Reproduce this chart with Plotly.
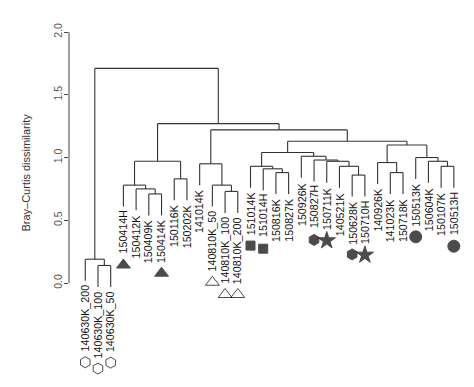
import plotly.graph_objects as go

# ---- data -------------------------------------------------------------
labels = ["140630K_200", "140630K_100", "140630K_50", "150414H", "150412K",
          "150409K", "150414K", "150116K", "150202K", "141014K",
          "140810K_50", "140810K_100", "140810K_200", "151014K", "151014H",
          "150816K", "150827K", "150926K", "150827H", "150711K",
          "140521K", "150628K", "150710H", "140926K", "141023K",
          "150718K", "150513K", "150604K", "150107K", "150513H"]

# hclust-style merges: negative = leaf (1-based), positive = earlier merge step
merge_a = [-2, -1, -6, -5, -4, -8, 5, -12, -11, -10, -16, -15, -14, -22, -21,
           -20, -19, -18, 13, -25, -24, -29, -28, -27, 21, 19, 10, 7, 2]
merge_b = [-3, 1, -7, 3, 4, -9, 6, -13, 8, 9, -17, 11, 12, -23, 14,
           15, 16, 17, 18, -26, 20, -30, 22, 23, 24, 25, 26, 27, 28]
heights = [0.14, 0.19, 0.71, 0.75, 0.78, 0.83, 0.97, 0.73, 0.78, 0.95,
           0.88, 0.91, 0.93, 0.86, 0.93, 0.97, 0.98, 1.01, 1.04, 0.88,
           0.96, 0.93, 0.97, 1.00, 1.10, 1.13, 1.22, 1.27, 1.71]

sample_symbol = {
    "140630K_200": "hexagon-open", "140630K_100": "hexagon-open", "140630K_50": "hexagon-open",
    "150414H": "triangle-up", "150414K": "triangle-up",
    "140810K_50": "triangle-up-open", "140810K_100": "triangle-up-open", "140810K_200": "triangle-up-open",
    "151014K": "square", "151014H": "square",
    "150827H": "hexagon", "150711K": "star", "150628K": "hexagon", "150710H": "star",
    "150513K": "circle", "150513H": "circle",
}

y_ticks = [0.0, 0.5, 1.0, 1.5, 2.0]
y_title = "Bray–Curtis dissimilarity"

# ---- layout geometry ----------------------------------------------------
W, H = 474, 387
ML, MR, MT, MB = 61, 4, 24, 2
Y0, Y1 = -0.876, 2.0
X0, X1 = -0.28, 31.9
px_per_unit = (H - MT - MB) / (Y1 - Y0)
LABEL_SIZE = 10.7
FONT = "Liberation Sans, Arial, sans-serif"

hang = 0.1 * max(heights)

# ---- dendrogram segments --------------------------------------------------
node_x = {}
node_h = {}
seg_x, seg_y = [], []
leaf_bottom = {}

for i, (a, b, h) in enumerate(zip(merge_a, merge_b, heights), start=1):
    xs = []
    for c in (a, b):
        if c < 0:
            cx = -c
            ch = h - hang
            leaf_bottom[-c] = ch
        else:
            cx = node_x[c]
            ch = node_h[c]
        xs.append(cx)
        seg_x += [cx, cx, None]
        seg_y += [h, ch, None]
    seg_x += [xs[0], xs[1], None]
    seg_y += [h, h, None]
    node_x[i] = (xs[0] + xs[1]) / 2
    node_h[i] = h

fig = go.Figure()
fig.add_trace(go.Scatter(x=seg_x, y=seg_y, mode="lines",
                         line=dict(color="#333333", width=1.1),
                         hoverinfo="skip", showlegend=False))

# ---- leaf labels & sample markers ----------------------------------------
char_w = {"K": 0.667, "H": 0.722, "_": 0.556}
def text_px(s):
    return sum(char_w.get(ch, 0.556) for ch in s) * LABEL_SIZE

annotations = []
mk_x, mk_y, mk_sym = [], [], []
for idx, lab in enumerate(labels, start=1):
    yb = leaf_bottom[idx]
    annotations.append(dict(x=idx, y=yb, xref="x", yref="y", text=lab,
                            textangle=-90, showarrow=False, xanchor="center",
                            yanchor="top", yshift=-2,
                            font=dict(family=FONT, size=LABEL_SIZE, color="#111")))
    if lab in sample_symbol:
        off = (4 + text_px(lab) + 11) / px_per_unit
        mk_x.append(idx)
        mk_y.append(yb - off)
        mk_sym.append(sample_symbol[lab])

sizes = {"hexagon-open": 11, "hexagon": 11, "triangle-up": 12, "triangle-up-open": 12,
         "square": 9, "star": 13, "circle": 12}
fig.add_trace(go.Scatter(x=mk_x, y=mk_y, mode="markers",
                         marker=dict(symbol=mk_sym, size=[sizes[s] for s in mk_sym],
                                     color="black", line=dict(color="black", width=1)),
                         cliponaxis=False, hoverinfo="skip", showlegend=False))

annotations.append(dict(x=(18 - ML) / (W - ML - MR), y=0.88, xref="paper", yref="y",
                        text=y_title, textangle=-90, showarrow=False,
                        xanchor="center", yanchor="middle",
                        font=dict(family=FONT, size=11, color="#333")))

fig.add_shape(type="line", xref="paper", yref="y", x0=0, x1=0,
              y0=y_ticks[0], y1=y_ticks[-1], line=dict(color="#444", width=1))

fig.update_layout(
    width=W, height=H, autosize=False,
    margin=dict(l=ML, r=MR, t=MT, b=MB),
    paper_bgcolor="white", plot_bgcolor="white",
    annotations=annotations,
    xaxis=dict(range=[X0, X1], visible=False, fixedrange=True),
    yaxis=dict(range=[Y0, Y1], tickvals=y_ticks,
               ticktext=[f"{v:.1f}" for v in y_ticks],
               tickangle=-90, ticks="outside", ticklen=4, tickcolor="#444",
               ticklabelstandoff=-2,
               showgrid=False, zeroline=False, showline=False, automargin=False,
               tickfont=dict(family=FONT, size=10.5, color="#555")),
)

fig.write_html("out.html")
